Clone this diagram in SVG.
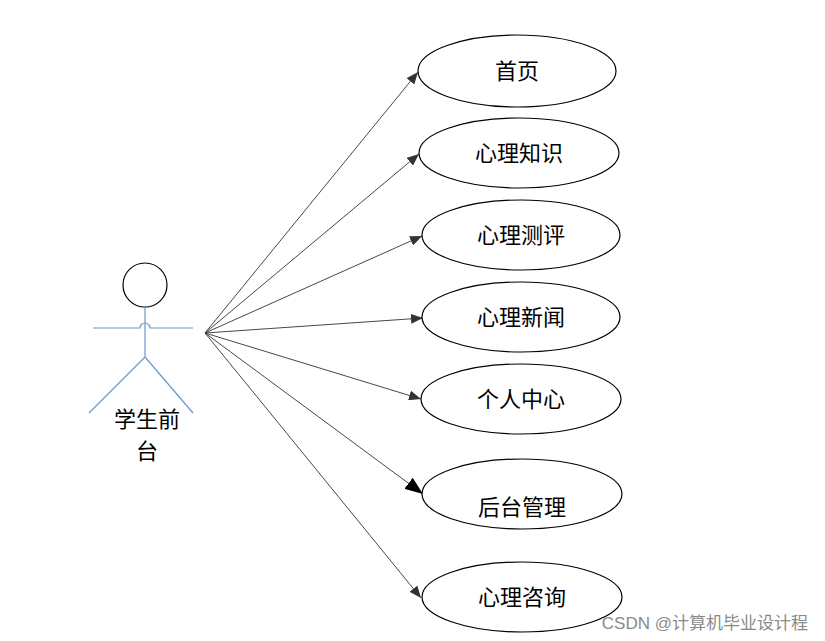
<svg xmlns="http://www.w3.org/2000/svg" width="825" height="641" viewBox="0 0 825 641">
<style>
.e{fill:#fff;stroke:#000;stroke-width:1.2}
.t{font-family:"Liberation Serif","Noto Sans CJK SC",serif;font-size:22px;text-anchor:middle;fill:#000}
.c{stroke:#333;stroke-width:0.9;fill:none;marker-end:url(#a)}
.b{stroke:#6f95cf;stroke-width:1.2;fill:none}
</style>
<defs>
<marker id="a" markerWidth="12" markerHeight="10" refX="12" refY="5" orient="auto" markerUnits="userSpaceOnUse"><path d="M0,0 L12,5 L0,10 Z" fill="#333"/></marker>
<marker id="a2" markerWidth="18" markerHeight="14" refX="18" refY="7" orient="auto" markerUnits="userSpaceOnUse"><path d="M0,0 L18,7 L0,14 Z" fill="#000"/></marker>
</defs>
<rect width="825" height="641" fill="#fff"/>
<g id="actor">
<circle cx="145" cy="285" r="22" fill="#fff" stroke="#000" stroke-width="1.2"/>
<path class="b" d="M145,307 V357 M93,328 H140 A5,5 0 0 1 150,328 H193 M145,357 L89,413 M145,357 L193,413"/>
<text class="t" x="147" y="427">学生前</text>
<text class="t" x="147" y="459">台</text>
</g>
<g id="connectors">
<line class="c" x1="205" y1="333" x2="418" y2="72"/>
<line class="c" x1="205" y1="333" x2="419" y2="154"/>
<line class="c" x1="205" y1="333" x2="422" y2="236"/>
<line class="c" x1="205" y1="333" x2="423" y2="318"/>
<line class="c" x1="205" y1="333" x2="421" y2="399"/>
<line x1="205" y1="333" x2="423" y2="494" stroke="#333" stroke-width="0.9" marker-end="url(#a2)"/>
<line class="c" x1="205" y1="333" x2="421" y2="598"/>
</g>
<g id="n1"><ellipse class="e" cx="517" cy="71" rx="99" ry="36"/><text class="t" x="517" y="79">首页</text></g>
<g id="n2"><ellipse class="e" cx="519" cy="153" rx="100" ry="35"/><text class="t" x="519" y="161">心理知识</text></g>
<g id="n3"><ellipse class="e" cx="521" cy="235" rx="99" ry="35"/><text class="t" x="521" y="243">心理测评</text></g>
<g id="n4"><ellipse class="e" cx="521" cy="317" rx="99" ry="35"/><text class="t" x="521" y="325">心理新闻</text></g>
<g id="n5"><ellipse class="e" cx="521" cy="399" rx="100" ry="35"/><text class="t" x="521" y="407">个人中心</text></g>
<g id="n6"><ellipse class="e" cx="522" cy="494" rx="100" ry="35"/><text class="t" x="522" y="515">后台管理</text></g>
<g id="n7"><ellipse class="e" cx="522" cy="597" rx="100" ry="35"/><text class="t" x="522" y="605">心理咨询</text></g>
<text x="808" y="629" font-family="'Liberation Sans','Noto Sans CJK SC',sans-serif" font-size="17" fill="#8a8a8a" text-anchor="end">CSDN @计算机毕业设计程</text>
</svg>
